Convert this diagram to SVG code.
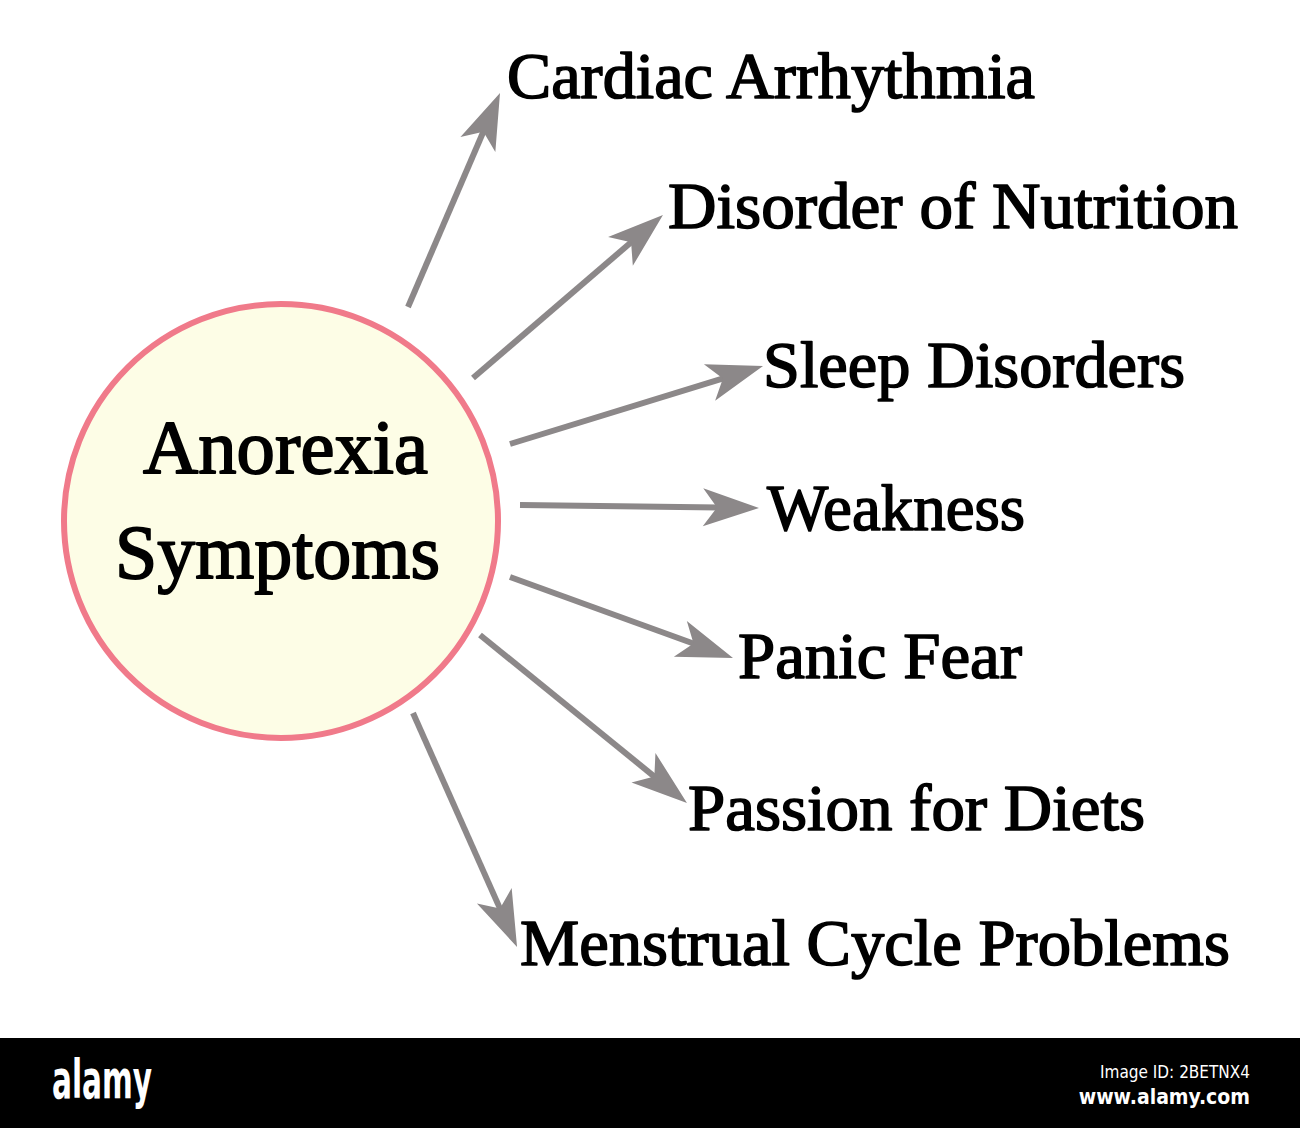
<svg xmlns="http://www.w3.org/2000/svg" width="1300" height="1128" viewBox="0 0 1300 1128">
<style>
.lbl{font-family:"Liberation Serif","Times New Roman",serif;font-size:66px;fill:#000;stroke:#000;stroke-width:1.6px;stroke-linejoin:round}
.ctr{font-family:"Liberation Serif","Times New Roman",serif;font-size:76px;fill:#000;stroke:#000;stroke-width:1.8px;stroke-linejoin:round}
.arr{stroke:#8c8889;stroke-width:6;fill:none;marker-end:url(#ah)}
.wm{font-family:"DejaVu Sans Condensed","DejaVu Sans",sans-serif;fill:#fff}
</style>
<defs>
<marker id="ah" markerUnits="userSpaceOnUse" viewBox="-60 -25 65 50" markerWidth="65" markerHeight="50" refX="-40" refY="0" orient="auto">
<path d="M0,0 L-56,-19 L-42,0 L-56,19 Z" fill="#8c8889"/>
</marker>
</defs>
<rect width="1300" height="1128" fill="#fff"/>
<g id="connectors">
<line class="arr" x1="408" y1="307" x2="484.2" y2="129.8"/>
<line class="arr" x1="473" y1="378" x2="632.6" y2="241"/>
<line class="arr" x1="510" y1="444" x2="724.8" y2="377.8"/>
<line class="arr" x1="520" y1="505" x2="719" y2="507.5"/>
<line class="arr" x1="510" y1="577" x2="695.4" y2="644.3"/>
<line class="arr" x1="480" y1="635" x2="655.9" y2="777.8"/>
<line class="arr" x1="413" y1="713" x2="500.8" y2="910.4"/>
</g>
<g id="center">
<circle cx="281" cy="521" r="217" fill="#fdfde6" stroke="#f07a8a" stroke-width="6"/>
<text class="ctr" x="143" y="473" textLength="285" lengthAdjust="spacingAndGlyphs">Anorexia</text>
<text class="ctr" x="115" y="578" textLength="325" lengthAdjust="spacingAndGlyphs">Symptoms</text>
</g>
<g id="n1"><text class="lbl" x="507" y="98" textLength="528" lengthAdjust="spacingAndGlyphs">Cardiac Arrhythmia</text></g>
<g id="n2"><text class="lbl" x="668" y="228" textLength="570" lengthAdjust="spacingAndGlyphs">Disorder of Nutrition</text></g>
<g id="n3"><text class="lbl" x="763" y="387" textLength="422" lengthAdjust="spacingAndGlyphs">Sleep Disorders</text></g>
<g id="n4"><text class="lbl" x="767" y="530" textLength="258" lengthAdjust="spacingAndGlyphs">Weakness</text></g>
<g id="n5"><text class="lbl" x="738" y="678" textLength="284" lengthAdjust="spacingAndGlyphs">Panic Fear</text></g>
<g id="n6"><text class="lbl" x="688" y="830" textLength="457" lengthAdjust="spacingAndGlyphs">Passion for Diets</text></g>
<g id="n7"><text class="lbl" x="520" y="965" textLength="710" lengthAdjust="spacingAndGlyphs">Menstrual Cycle Problems</text></g>
<g id="footer">
<rect x="0" y="1038" width="1300" height="90" fill="#000"/>
<text class="wm" x="52" y="1098" font-size="54" font-weight="bold" textLength="100" lengthAdjust="spacingAndGlyphs">alamy</text>
<text class="wm" x="1250" y="1078" font-size="17" text-anchor="end">Image ID: 2BETNX4</text>
<text class="wm" x="1250" y="1104" font-size="21" font-weight="bold" text-anchor="end">www.alamy.com</text>
</g>
</svg>
